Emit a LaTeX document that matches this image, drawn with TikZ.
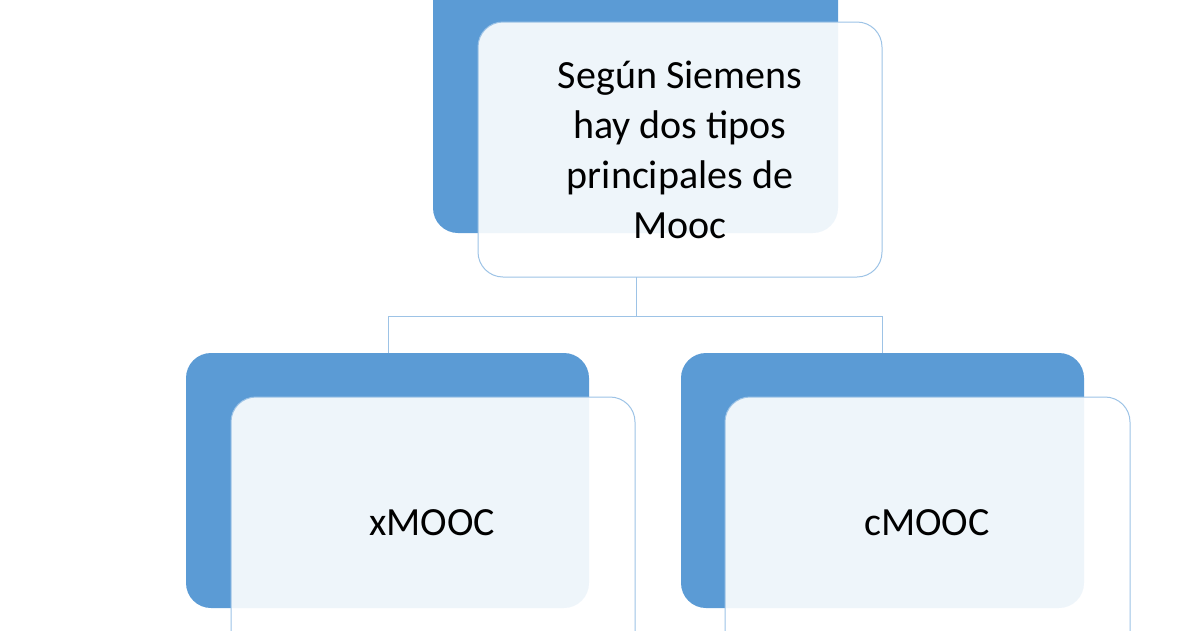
\documentclass[tikz,border=0pt]{standalone}
\usepackage{fontspec}
\setmainfont{Carlito}
\begin{document}
\begin{tikzpicture}[x=1pt,y=-1pt,
  back/.style={fill=blue1,draw=none,rounded corners=25pt},
  front/.style={fill=white,fill opacity=0.9,draw=edge,line width=1pt,rounded corners=25pt},
  lbl/.style={font=\fontsize{40}{50}\selectfont,align=center,text=black},
  conn/.style={draw=edge,line width=1pt}]
\definecolor{blue1}{HTML}{5B9BD5}
\definecolor{edge}{HTML}{9DC3E6}
\useasboundingbox (0,0) rectangle (1200,630);
\begin{scope}
\clip (0,0) rectangle (1200,630);
% top
\draw[back] (433,-40) rectangle (838,233);
\draw[front] (478,22) rectangle (882,277);
\node[lbl] (top) at (680,150) {Según Siemens\\hay dos tipos\\principales de\\Mooc};
% left
\draw[back] (186,353) rectangle (589,608);
\draw[front] (231,397) rectangle (635,680);
\node[lbl] (x) at (432,523) {xMOOC};
% right
\draw[back] (681,353) rectangle (1084,608);
\draw[front] (725,397) rectangle (1130,680);
\node[lbl] (c) at (927,523) {cMOOC};
\end{scope}
\coordinate (t) at (636,277);
\coordinate (m) at (636,316);
\coordinate (l1) at (388,316);
\coordinate (l2) at (388,353);
\coordinate (r1) at (882,316);
\coordinate (r2) at (882,353);
\draw[conn] (t) -- (m) (l2) -- (l1) -- (r1) -- (r2);
\end{tikzpicture}
\end{document}
